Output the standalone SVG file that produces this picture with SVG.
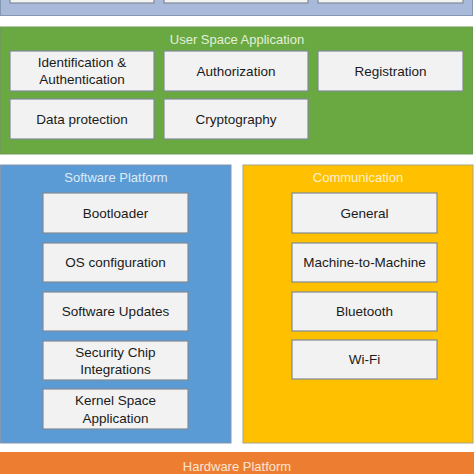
<svg xmlns="http://www.w3.org/2000/svg" width="474" height="474" viewBox="0 0 474 474">
<style>
.box{fill:#f2f2f2;stroke:#7f8a94;stroke-width:1.2}
.t{font-family:"Liberation Sans",Arial,sans-serif;font-size:13.5px;fill:#1a1a1a;text-anchor:middle}
.h{font-family:"Liberation Sans",Arial,sans-serif;font-size:13px;text-anchor:middle}
</style>
<rect width="474" height="474" fill="#ffffff"/>
<g id="top-layer">
<rect x="0.5" y="-10" width="472" height="25.5" fill="#a9b9d9" stroke="#8497b0"/>
<rect class="box" x="10" y="-40" width="144" height="43"/>
<rect class="box" x="164" y="-40" width="144" height="43"/>
<rect class="box" x="318" y="-40" width="145" height="43"/>
</g>
<g id="user-space">
<rect x="0.5" y="27" width="472" height="127" fill="#6aa842" stroke="#6f9a56"/>
<text class="h" x="237" y="44" fill="#e2f0d9">User Space Application</text>
</g>
<g id="ident"><rect class="box" x="10" y="51" width="144" height="40"/><text class="t" x="82" y="67">Identification &amp;</text><text class="t" x="82" y="84">Authentication</text></g>
<g id="authz"><rect class="box" x="164" y="51" width="144" height="40"/><text class="t" x="236" y="76">Authorization</text></g>
<g id="reg"><rect class="box" x="318" y="51" width="145" height="40"/><text class="t" x="390.5" y="76">Registration</text></g>
<g id="dataprot"><rect class="box" x="10" y="99" width="144" height="40"/><text class="t" x="82" y="124">Data protection</text></g>
<g id="crypto"><rect class="box" x="164" y="99" width="144" height="40"/><text class="t" x="236" y="124">Cryptography</text></g>
<g id="software-platform">
<rect x="0.5" y="165" width="230.5" height="278" fill="#5b9bd5" stroke="#8497b0"/>
<text class="h" x="116" y="182" fill="#deebf7">Software Platform</text>
</g>
<g id="bootloader"><rect class="box" x="43" y="193" width="145" height="40"/><text class="t" x="115.5" y="218">Bootloader</text></g>
<g id="osconf"><rect class="box" x="43" y="243" width="145" height="39"/><text class="t" x="115.5" y="267">OS configuration</text></g>
<g id="swupd"><rect class="box" x="43" y="292" width="145" height="39"/><text class="t" x="115.5" y="316">Software Updates</text></g>
<g id="secchip"><rect class="box" x="43" y="341" width="145" height="39"/><text class="t" x="115.5" y="357">Security Chip</text><text class="t" x="115.5" y="374">Integrations</text></g>
<g id="kernel"><rect class="box" x="43" y="389" width="145" height="40"/><text class="t" x="115.5" y="405">Kernel Space</text><text class="t" x="115.5" y="423">Application</text></g>
<g id="communication">
<rect x="243" y="165" width="230" height="278" fill="#ffc000" stroke="#a5a58a"/>
<text class="h" x="358" y="182" fill="#fff2cc">Communication</text>
</g>
<g id="general"><rect class="box" x="292" y="193" width="145" height="40"/><text class="t" x="364.5" y="218">General</text></g>
<g id="m2m"><rect class="box" x="292" y="243" width="145" height="39"/><text class="t" x="364.5" y="267">Machine-to-Machine</text></g>
<g id="bluetooth"><rect class="box" x="292" y="292" width="145" height="39"/><text class="t" x="364.5" y="316">Bluetooth</text></g>
<g id="wifi"><rect class="box" x="292" y="340" width="145" height="39"/><text class="t" x="364.5" y="364">Wi-Fi</text></g>
<g id="hardware-platform">
<rect x="0" y="452" width="474" height="30" fill="#ed7d31"/>
<text class="h" x="237" y="471" fill="#fbe5d6">Hardware Platform</text>
</g>
<g id="connectors"/>
</svg>
